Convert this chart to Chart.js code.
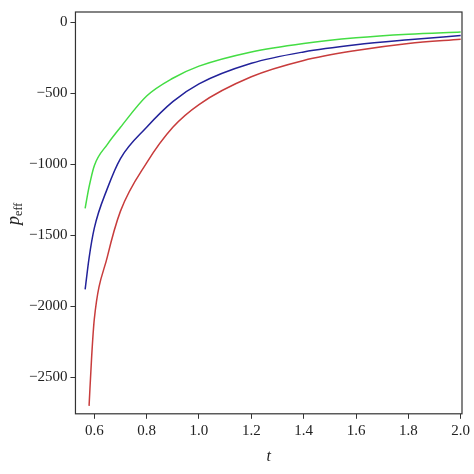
<!DOCTYPE html>
<html>
<head>
<script src="https://cdn.jsdelivr.net/npm/chart.js@4"></script>
<style>
  body { margin: 0; background: #fff; }
  #wrap { width: 474px; height: 474px; }
</style>
</head>
<body>
<div id="wrap"><canvas id="c"></canvas></div>
<script>
const greenT = [0.565, 0.58, 0.6, 0.65, 0.7, 0.8, 0.9, 1.0, 1.2, 1.4, 1.6, 1.8, 2.0];
const greenP = [-1310, -1160, -1010, -860, -740, -520, -395, -310, -210, -150, -110, -85, -70];
const blueT = [0.565, 0.58, 0.6, 0.65, 0.7, 0.8, 0.9, 1.0, 1.2, 1.4, 1.6, 1.8, 2.0];
const blueP = [-1880, -1660, -1450, -1170, -960, -740, -560, -435, -290, -210, -160, -125, -95];
const redT = [0.58, 0.59, 0.6, 0.65, 0.7, 0.8, 0.9, 1.0, 1.2, 1.4, 1.6, 1.8, 2.0];
const redP = [-2700, -2350, -2090, -1650, -1330, -990, -740, -580, -385, -270, -200, -150, -120];
const xTicks = [0.6, 0.8, 1.0, 1.2, 1.4, 1.6, 1.8, 2.0];
const yTicks = [0, -500, -1000, -1500, -2000, -2500];

function pts(t, p) { return t.map((v, i) => ({x: v, y: p[i]})); }
function line(t, p, color) {
  return { data: pts(t, p), borderColor: color, borderWidth: 1.5, pointRadius: 0,
           showLine: true, cubicInterpolationMode: 'monotone', fill: false };
}

// box around the plot area + y label with subscript
const frame = {
  id: 'frame',
  afterDraw(chart) {
    const a = chart.chartArea, ctx = chart.ctx;
    ctx.save();
    ctx.strokeStyle = '#333';
    ctx.lineWidth = 1.2;
    ctx.strokeRect(a.left, a.top, a.right - a.left, a.bottom - a.top);
    ctx.translate(14, (a.top + a.bottom) / 2);
    ctx.rotate(-Math.PI / 2);
    ctx.fillStyle = '#222';
    ctx.textBaseline = 'middle';
    ctx.font = 'italic 18px "Liberation Serif"';
    ctx.fillText('p', -12, 0);
    ctx.font = '12px "Liberation Serif"';
    ctx.fillText('eff', -3, 5);
    ctx.restore();
  }
};

const font = { family: 'Liberation Serif', size: 15 };

new Chart(document.getElementById('c'), {
  type: 'scatter',
  data: { datasets: [ line(greenT, greenP, '#44dd44'), line(blueT, blueP, '#22229a'), line(redT, redP, '#c83c3c') ] },
  options: {
    responsive: true, maintainAspectRatio: false, animation: false,
    layout: { padding: { top: 10, right: 12, left: 26, bottom: 4 } },
    plugins: { legend: { display: false }, tooltip: { enabled: false } },
    scales: {
      x: {
        min: 0.528, max: 2.005,
        afterBuildTicks: s => { s.ticks = xTicks.map(v => ({value: v})); },
        ticks: { font, color: '#222', callback: v => v.toFixed(1), maxRotation: 0 },
        grid: { display: true, drawOnChartArea: false, tickLength: 5, color: '#333' },
        border: { display: false },
        title: { display: true, text: 't', font: { family: 'Liberation Serif', size: 16, style: 'italic' }, color: '#222' }
      },
      y: {
        min: -2756, max: 71,
        afterBuildTicks: s => { s.ticks = yTicks.map(v => ({value: v})); },
        ticks: { font, color: '#222', callback: v => String(v).replace('-', '\u2212') },
        grid: { display: true, drawOnChartArea: false, tickLength: 5, color: '#333' },
        border: { display: false }
      }
    }
  },
  plugins: [frame]
});
</script>
</body>
</html>
